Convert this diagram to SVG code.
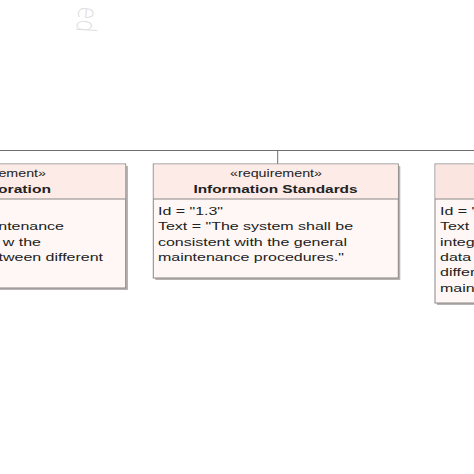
<svg xmlns="http://www.w3.org/2000/svg" width="474" height="474" viewBox="0 0 474 474">
<style>
.shadow{fill:#b8b4b3}
.box{fill:#fef7f5;stroke:#8a8685;stroke-width:1}
.head{fill:#fcebe7}
.div{stroke:#8a8685;stroke-width:1}
.st{font-family:"Liberation Sans",Arial,sans-serif;font-size:10.5px;fill:#222}
.ti{font-family:"Liberation Sans",Arial,sans-serif;font-size:11.5px;font-weight:bold;fill:#222}
.tx{font-family:"Liberation Sans",Arial,sans-serif;font-size:11.5px;fill:#222}
.conn{stroke:#6e6e6e;stroke-width:1;fill:none}
.wm{font-family:"DejaVu Sans",sans-serif;font-weight:200;font-size:21px;fill:#dedede}
</style>
<rect width="474" height="474" fill="#ffffff"/>
<text class="wm" transform="translate(79,6) scale(1.3,1) rotate(95)">ed</text>
<g id="connectors">
<path class="conn" d="M0 150.5 H474 M277.7 150.5 V164"/>
</g>
<g id="node-left">
<rect class="shadow" x="-118" y="166" width="246" height="124"/>
<rect class="box" x="-120" y="164" width="245.7" height="124"/>
<rect class="head" x="-119.5" y="164.5" width="244.7" height="34.5"/>
<line class="div" x1="-120" y1="199" x2="125.7" y2="199"/>
<text class="st" text-anchor="end" transform="translate(46,177) scale(1.36,1)">ement»</text>
<text class="ti" text-anchor="end" transform="translate(51,193) scale(1.36,1)">oration</text>
<text class="tx" text-anchor="end" transform="translate(64,230.3) scale(1.39,1)">ntenance</text>
<text class="tx" text-anchor="end" transform="translate(41,245.6) scale(1.39,1)">w the</text>
<text class="tx" text-anchor="end" transform="translate(103,260.9) scale(1.39,1)">tween different</text>
</g>
<g id="node-information-standards">
<rect class="shadow" x="155.3" y="166" width="245" height="114"/>
<rect class="box" x="153.3" y="164" width="245" height="114"/>
<rect class="head" x="153.8" y="164.5" width="244" height="34.5"/>
<line class="div" x1="153.3" y1="199" x2="398.3" y2="199"/>
<text class="st" text-anchor="middle" transform="translate(276,177) scale(1.36,1)">«requirement»</text>
<text class="ti" text-anchor="middle" transform="translate(275.5,193) scale(1.34,1)">Information Standards</text>
<text class="tx" transform="translate(158,215) scale(1.39,1)">Id = "1.3"</text>
<text class="tx" transform="translate(158,230.3) scale(1.39,1)">Text = "The system shall be</text>
<text class="tx" transform="translate(158,245.6) scale(1.39,1)">consistent with the general</text>
<text class="tx" transform="translate(158,260.9) scale(1.39,1)">maintenance procedures."</text>
</g>
<g id="node-right">
<rect class="shadow" x="437" y="166" width="60" height="139"/>
<rect class="box" x="435" y="164" width="60" height="139"/>
<rect class="head" x="435.5" y="164.5" width="59" height="34.5" style="fill:#fbe5e1"/>
<line class="div" x1="435" y1="199" x2="495" y2="199"/>
<text class="tx" transform="translate(440,215) scale(1.39,1)">Id = "</text>
<text class="tx" transform="translate(440,230.3) scale(1.39,1)">Text</text>
<text class="tx" transform="translate(440,245.6) scale(1.39,1)">integ</text>
<text class="tx" transform="translate(440,260.9) scale(1.39,1)">data</text>
<text class="tx" transform="translate(440,276.2) scale(1.39,1)">differ</text>
<text class="tx" transform="translate(440,291.5) scale(1.39,1)">main</text>
</g>
</svg>
